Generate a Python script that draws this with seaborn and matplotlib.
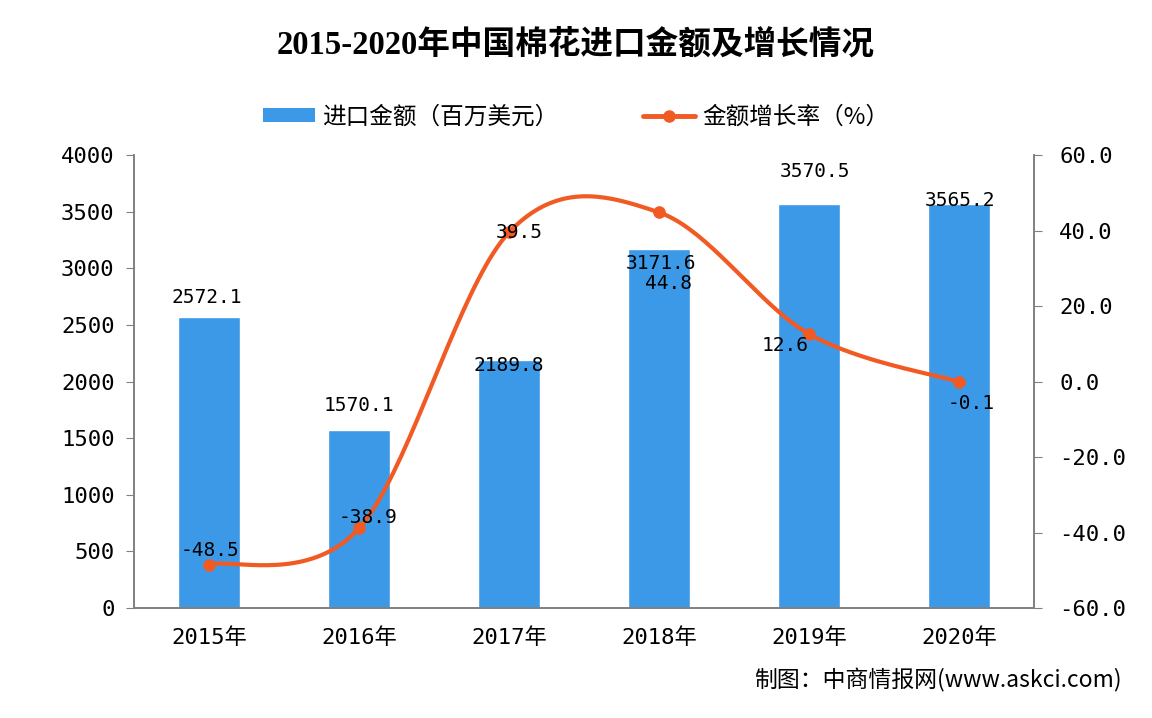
import numpy as np
import matplotlib
matplotlib.use('Agg')
import matplotlib.pyplot as plt
import seaborn as sns
from matplotlib.patches import Patch
from matplotlib.lines import Line2D

# 数据
years = ['2015年', '2016年', '2017年', '2018年', '2019年', '2020年']
amount = [2572.1, 1570.1, 2189.8, 3171.6, 3570.5, 3565.2]   # 进口金额（百万美元）
growth = [-48.5, -38.9, 39.5, 44.8, 12.6, -0.1]             # 金额增长率（%）

left_ticks = [0, 500, 1000, 1500, 2000, 2500, 3000, 3500, 4000]
right_ticks = [-60, -40, -20, 0, 20, 40, 60]

# 标签偏移（像素）
bar_label_offsets = [(-2, 19), (0, 25), (0, -5), (2, -15), (6, 32), (1, 4)]
line_label_offsets = [(1, 14), (9, 11), (10, 0), (9, -71), (-24, -12), (12, -22)]

bar_color = '#3c99e8'
line_color = '#f15a22'
mono = ['DejaVu Sans Mono', 'Noto Sans CJK SC']
cjk = ['Noto Sans CJK SC', 'DejaVu Sans']

sns.set_style('white')
plt.rcParams['font.family'] = cjk
plt.rcParams['axes.unicode_minus'] = False
plt.rcParams['text.color'] = 'black'
plt.rcParams['xtick.color'] = 'black'
plt.rcParams['ytick.color'] = 'black'


def smooth_curve(ys, n=40):
    # 类似 Excel 平滑线的贝塞尔曲线
    ys = np.asarray(ys, dtype=float)
    xs = np.arange(len(ys), dtype=float)
    px, py = [], []
    for i in range(len(ys) - 1):
        x0, y0 = (xs[i - 1], ys[i - 1]) if i > 0 else (xs[i], ys[i])
        x1, y1 = xs[i], ys[i]
        x2, y2 = xs[i + 1], ys[i + 1]
        x3, y3 = (xs[i + 2], ys[i + 2]) if i + 2 < len(ys) else (x2, y2)
        c1x, c1y = x1 + (x2 - x0) / 6, y1 + (y2 - y0) / 6
        c2x, c2y = x2 - (x3 - x1) / 6, y2 - (y3 - y1) / 6
        t = np.linspace(0, 1, n)
        px.append((1 - t) ** 3 * x1 + 3 * (1 - t) ** 2 * t * c1x + 3 * (1 - t) * t ** 2 * c2x + t ** 3 * x2)
        py.append((1 - t) ** 3 * y1 + 3 * (1 - t) ** 2 * t * c1y + 3 * (1 - t) * t ** 2 * c2y + t ** 3 * y2)
    return np.concatenate(px), np.concatenate(py)


fig = plt.figure(figsize=(11.52, 7.18), dpi=100)
ax = fig.add_axes([0.1163, 0.1532, 0.7813, 0.6309])

sns.barplot(x=years, y=amount, ax=ax, color=bar_color, width=0.41, saturation=1)
ax.set_xlim(-0.5, len(years) - 0.5)
ax.set_ylim(0, 4000)
ax.set_yticks(left_ticks)
ax.set_yticklabels([str(v) for v in left_ticks], fontfamily=mono, fontsize=16)
ax.set_xticks(range(len(years)))
ax.set_xticklabels(years, fontfamily=mono, fontsize=16)
ax.set_xticks(np.arange(-0.5, len(years), 1.0), minor=True)
ax.tick_params(axis='x', which='major', length=0, pad=14)
ax.tick_params(axis='x', which='minor', length=6, color='#808080', direction='out')
ax.tick_params(axis='y', length=6, color='#808080', direction='out', pad=8)
ax.set_xlabel('')
ax.set_ylabel('')

for i, v in enumerate(amount):
    dx, dy = bar_label_offsets[i]
    ax.annotate(f'{v:.1f}', (i, v), xytext=(dx, dy), textcoords='offset pixels',
                ha='center', va='center', fontfamily=mono, fontsize=14, color='black')

ax2 = ax.twinx()
sx, sy = smooth_curve(growth)
ax2.plot(sx, sy, color=line_color, lw=3, solid_capstyle='round', zorder=3)
sns.scatterplot(x=list(range(len(growth))), y=growth, ax=ax2, color=line_color,
                s=70, edgecolor=line_color, zorder=4)
ax2.set_ylim(-60, 60)
ax2.set_yticks(right_ticks)
ax2.set_yticklabels([f'{v:.1f}' for v in right_ticks], fontfamily=mono, fontsize=16)
ax2.tick_params(axis='y', length=6, color='#808080', direction='out', pad=12)
ax2.set_xlim(-0.5, len(years) - 0.5)

for i, v in enumerate(growth):
    dx, dy = line_label_offsets[i]
    ax2.annotate(f'{v:.1f}', (i, v), xytext=(dx, dy), textcoords='offset pixels',
                 ha='center', va='center', fontfamily=mono, fontsize=14, color='black', zorder=5)

for a in (ax, ax2):
    a.spines['top'].set_visible(False)
    for s in ('left', 'right', 'bottom'):
        a.spines[s].set_color('#808080')
        a.spines[s].set_linewidth(1.2)

fig.text(0.5, 0.937, '2015-2020年中国棉花进口金额及增长情况', ha='center', va='center',
         fontsize=23.5, fontweight='bold', color='black',
         family=['Liberation Serif', 'Noto Sans CJK SC'])

handles = [Patch(facecolor=bar_color, edgecolor='none'),
           Line2D([0], [0], color=line_color, lw=3.5, marker='o', markersize=8)]
fig.legend(handles, ['进口金额（百万美元）', '金额增长率（%）'], loc='center',
           bbox_to_anchor=(0.5, 0.837), ncol=2, frameon=False, fontsize=17,
           handlelength=2.2, handleheight=0.5, columnspacing=3.6, handletextpad=0.3)

fig.text(0.974, 0.053, '制图：中商情报网(www.askci.com)', ha='right', va='center',
         fontsize=16.5, family=cjk, color='black')

fig.savefig('out.png', dpi=100, facecolor='white')
